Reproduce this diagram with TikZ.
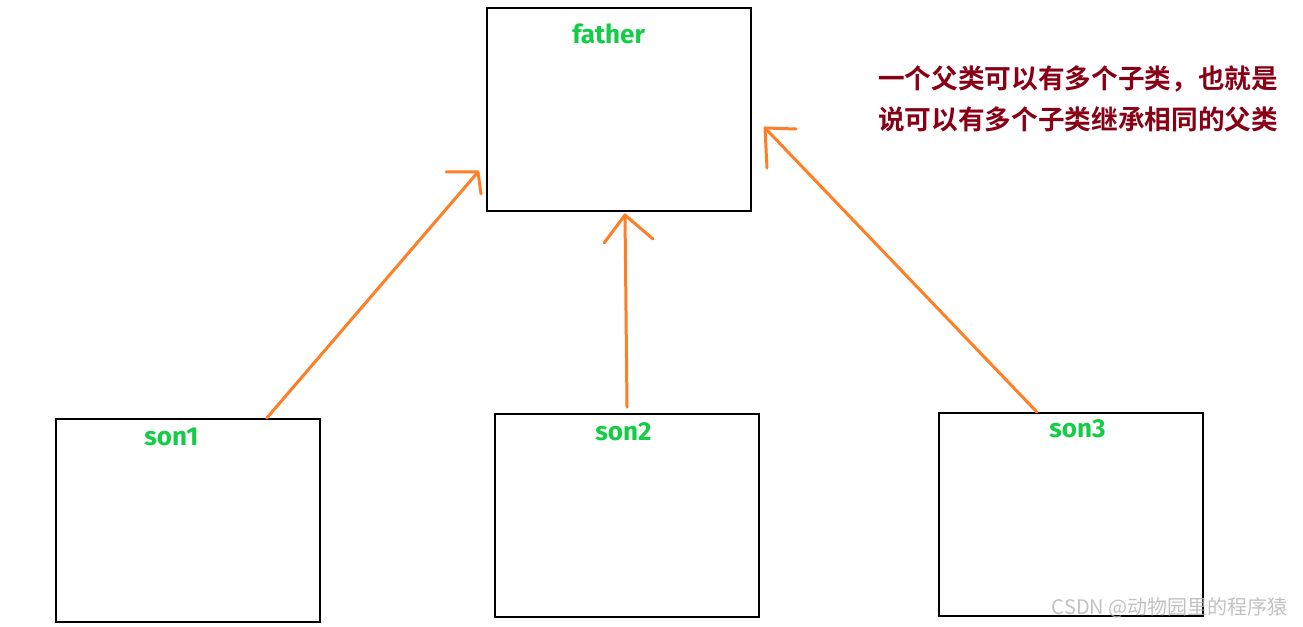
\documentclass[tikz,border=0pt]{standalone}
\usepackage{fontspec}
\usepackage{xcolor}
\usepackage{tikz}
\newfontfamily\cjkbold{Noto Sans CJK SC Bold}
\newfontfamily\cjk{Noto Sans CJK SC}
\newfontfamily\latinbold{Fira Sans}
\definecolor{paintorange}{RGB}{255,127,39}
\definecolor{paintgreen}{RGB}{20,205,70}
\definecolor{paintred}{RGB}{136,0,21}
\tikzset{
    box/.style={draw=black, line width=1.5pt, minimum width=198pt, minimum height=152pt},
    tag/.style={paintgreen, font=\latinbold\bfseries\fontsize{19.5pt}{19.5pt}\selectfont, anchor=base west, inner sep=0pt},
    note/.style={paintred, font=\cjkbold\fontsize{20pt}{20pt}\selectfont, anchor=base west, inner sep=0pt},
    hand/.style={paintorange, line width=2.25pt, line cap=round, line join=round}
}
\begin{document}
\begin{tikzpicture}[x=0.75pt, y=-0.75pt]
                \useasboundingbox (0,0) rectangle (1303,627);
                % the four classes
                \node[box] (father) at (619,109.5) {};
                \node[box] (son1) at (188,520.5) {};
                \node[box] (son2) at (627,515.5) {};
                \node[box] (son3) at (1071,514.5) {};
                \node[tag] (fatherlbl) at (572,44) {father};
                \node[tag] (son1lbl) at (144,445) {son1};
                \node[tag] (son2lbl) at (595,440) {son2};
                \node[tag] (son3lbl) at (1049,437) {son3};
                % hand drawn arrows
                \coordinate (tip1) at (478,172);
                \coordinate (tip2) at (625,215);
                \coordinate (tip3) at (765,128);
                \draw[hand] ([xshift=59pt]son1.north) -- (tip1);
                \draw[hand] (tip1) ++(-32,0) -- (tip1) -- ++(3,22);
                \draw[hand] (son2.north) ++(0,-6) -- (tip2);
                \draw[hand] (tip2) ++(-21,28) -- (tip2) -- ++(28,24);
                \draw[hand] ([xshift=-25.5pt]son3.north) -- (tip3);
                \draw[hand] (tip3) ++(31,1) -- (tip3) -- ++(2,40);
                % note
                \node[note] (note1) at (878,89) {一个父类可以有多个子类，也就是};
                \node[note] (note2) at (878,130) {说可以有多个子类继承相同的父类};
                \node[gray!60, opacity=0.8, font=\cjk\fontsize{15pt}{15pt}\selectfont, anchor=base east, inner sep=0pt] (mark) at (1288,614) {CSDN @动物园里的程序猿};
\end{tikzpicture}
\end{document}
